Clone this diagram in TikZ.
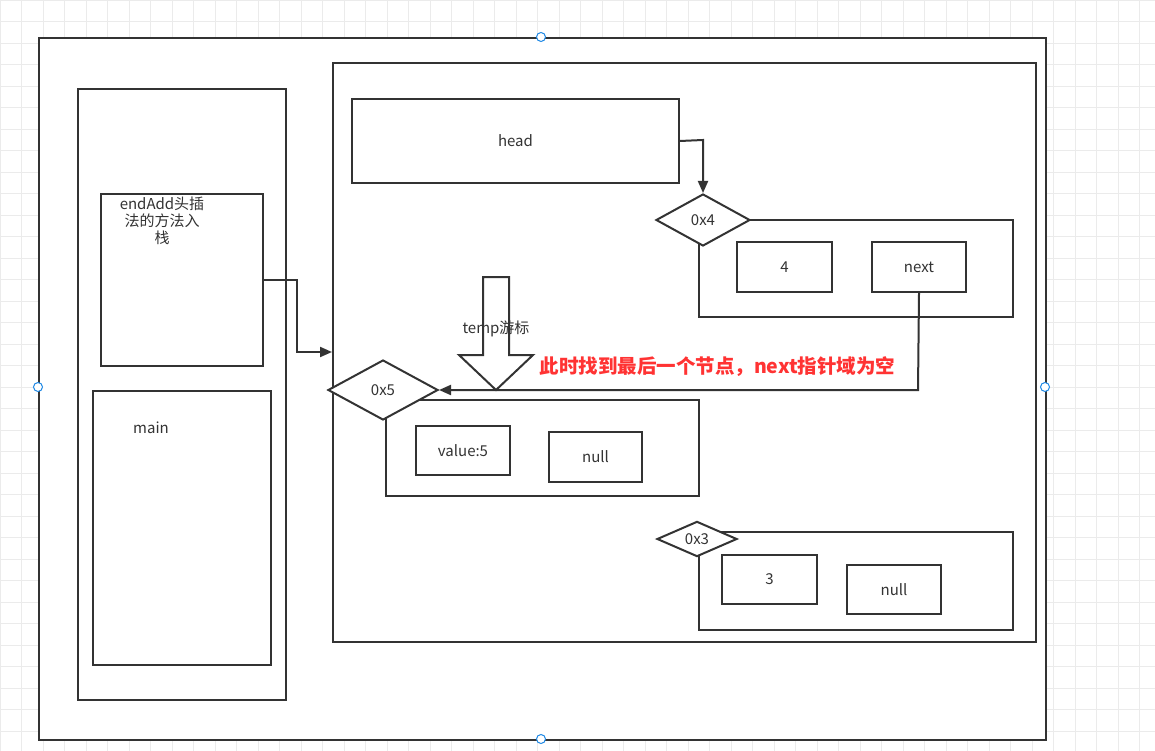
\documentclass[tikz,border=0pt]{standalone}
\usepackage{fontspec}
\setmainfont{Noto Sans CJK SC}
\usetikzlibrary{shapes.geometric,arrows.meta}
\definecolor{ln}{HTML}{333333}
\definecolor{hand}{HTML}{1E88E5}
\definecolor{note}{HTML}{FF3333}
\begin{document}
\begin{tikzpicture}[x=1pt,y=-1pt,
  bx/.style={draw=ln,line width=2pt,fill=white},
  dm/.style={diamond,draw=ln,line width=2pt,fill=white,inner sep=0pt,font=\fontsize{15}{17}\selectfont,text=ln},
  t/.style={font=\fontsize{15}{17}\selectfont,text=ln},
  arr/.style={draw=ln,line width=2pt,-{Triangle[length=12pt,width=10pt]}}]
\useasboundingbox (0,0) rectangle (1155,751);
\fill[white] (0,0) rectangle (1155,751);
\foreach \x in {0,21.5,...,1155} \draw[black!8,line width=0.8pt] (\x,0)--(\x,751);
\foreach \y in {0,21.5,...,751} \draw[black!8,line width=0.8pt] (0,\y)--(1155,\y);
\node[bx,minimum width=1007,minimum height=702,anchor=north west] (outer) at (38,37) {};
\foreach \p in {(541,37),(38,387),(1045,387),(541,739)} \draw[hand,fill=white,line width=1pt] \p circle (4.5);
\node[bx,minimum width=208,minimum height=611,anchor=north west] (stack) at (77,88) {};
\node[bx,minimum width=162,minimum height=172,anchor=north west] (endadd) at (100,193) {};
\node[t,align=center,anchor=north] (endtxt) at (162,193) {endAdd头插\\法的方法入\\栈};
\node[bx,minimum width=178,minimum height=274,anchor=north west] (mainb) at (92,390) {};
\node[t] (maint) at (151,428) {main};
\node[bx,minimum width=703,minimum height=579,anchor=north west] (heap) at (332,62) {};
\node[bx,minimum width=327,minimum height=84,anchor=north west] (head) at (351,98) {};
\node[t] at (head.center) {head};
% node 0x4
\node[bx,minimum width=314,minimum height=97,anchor=north west] (n4) at (698,219) {};
\node[dm,minimum width=94,minimum height=52] (d4) at (703,220) {0x4};
\node[bx,minimum width=95,minimum height=50,anchor=north west,t] (v4) at (736,241) {4};
\node[bx,minimum width=94,minimum height=50,anchor=north west,t] (next4) at (871,241) {next};
% node 0x5
\node[bx,minimum width=313,minimum height=96,anchor=north west] (n5) at (385,399) {};
\node[dm,minimum width=110,minimum height=60] (d5) at (383,390) {0x5};
\node[bx,minimum width=94,minimum height=49,anchor=north west,t] (v5) at (415,425) {value:5};
\node[bx,minimum width=93,minimum height=50,anchor=north west,t] (nl5) at (548,431) {null};
% node 0x3
\node[bx,minimum width=314,minimum height=98,anchor=north west] (n3) at (698,531) {};
\node[dm,minimum width=80,minimum height=30] (d3) at (697,539) {0x3};
\node[bx,minimum width=95,minimum height=49,anchor=north west,t] (v3) at (721,554) {3};
\node[bx,minimum width=94,minimum height=49,anchor=north west,t] (nl3) at (846,564) {null};
% connectors
\draw[arr] (head.east) -- (703,140) -- (d4.north);
\draw[arr] (next4.south) -- (918,390) -- (d5.east);
\draw[arr] (endadd.east |- 0,280) -- (297,280) -- (297,352) -- (heap.west |- 0,352);
% temp arrow
\draw[ln,line width=2pt,fill=white] (483,277) -- (509,277) -- (509,355) -- (533,355) -- (496,390) -- (459,355) -- (483,355) -- cycle;
\node[t] (temp) at (496,329) {temp游标};
\node[anchor=west,text=note,font=\fontsize{19.5}{21}\selectfont\bfseries] (note) at (536,367) {此时找到最后一个节点，next指针域为空};
\end{tikzpicture}
\end{document}
